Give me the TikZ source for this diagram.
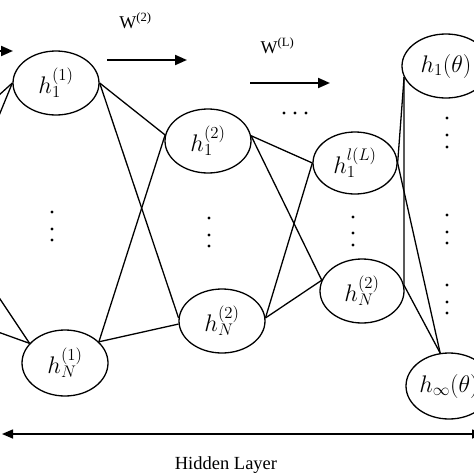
\RequirePackage{fix-cm}
\documentclass[tikz,border=0pt]{standalone}
\usepackage{fontspec}
\setmainfont{Liberation Serif}
\usetikzlibrary{shapes.geometric,arrows.meta}
\begin{document}
\begin{tikzpicture}[x=1pt,y=-1pt,
  neuron/.style={draw, ellipse, line width=1.3pt, minimum width=86pt, minimum height=64pt, inner sep=0pt, font=\fontsize{24}{28}\selectfont},
  link/.style={line width=1.3pt},
  warrow/.style={line width=2pt, -{Triangle[length=12pt,width=10pt]}},
  harrow/.style={line width=1.5pt, {Triangle[length=11pt,width=9pt]}-{Triangle[length=11pt,width=9pt]}},
  lbl/.style={font=\fontsize{18}{21}\selectfont, inner sep=0pt, anchor=base},
  dotmark/.style={fill=black}
]
\useasboundingbox (0,0) rectangle (474,474);

% neurons
\node[neuron] (A1) at (56,83) {$h_1^{(1)}$};
\node[neuron, minimum height=66pt] (AN) at (65,363) {$h_N^{(1)}$};
\node[neuron] (B1) at (208,141) {$h_1^{(2)}$};
\node[neuron] (BN) at (222,321) {$h_N^{(2)}$};
\node[neuron, minimum width=84pt, minimum height=62pt] (C1) at (355,163) {$h_1^{l(L)}$};
\node[neuron, minimum width=84pt] (CN) at (362,291) {$h_N^{(2)}$};
\node[neuron, minimum width=88pt] (D1) at (446,66) {$h_1(\theta)$};
\node[neuron, minimum height=66pt] (DI) at (449,386) {$h_\infty(\theta)$};

% off-picture ends
\coordinate (L1) at (-2,96);
\coordinate (L2) at (-2,118);
\coordinate (L3) at (-2,296);
\coordinate (L4) at (-2,332);

% connections
\draw[link] (A1.west) -- (L1);
\draw[link] (A1.west) -- (L2);
\draw[link] (AN.151) -- (L3);
\draw[link] (AN.151) -- (L4);
\draw[link] (A1.east) -- (B1.172);
\draw[link] (A1.east) -- (BN.176);
\draw[link] (AN.32) -- (B1.172);
\draw[link] (AN.32) -- (BN.184);
\draw[link] (B1.7) -- (C1.west);
\draw[link] (B1.7) -- (CN.165);
\draw[link] (BN.4) -- (C1.west);
\draw[link] (BN.4) -- (CN.165);
\draw[link] (C1.east) -- (DI.105);
\draw[link] (D1.195) -- (C1.east);
\draw[link] (D1.195) -- (CN.8);
\draw[link] (CN.8) -- (DI.105);

% weight arrows
\coordinate (T0) at (-2,51);
\coordinate (T1) at (13,51);
\coordinate (W2a) at (107,60);
\coordinate (W2b) at (187,60);
\coordinate (WLa) at (250,83);
\coordinate (WLb) at (330,83);
\draw[warrow] (T0) -- (T1);
\draw[warrow] (W2a) -- (W2b);
\draw[warrow] (WLa) -- (WLb);
\node[lbl] (W2) at (135.5,28) {W\textsuperscript{(2)}};
\node[lbl] (WL) at (277.5,53) {W\textsuperscript{(L)}};

% hidden layer arrow
\coordinate (H0) at (2,434);
\coordinate (H1) at (483,434);
\draw[harrow] (H0) -- (H1);
\node[lbl, font=\fontsize{18.5}{22}\selectfont] (HL) at (226,469) {Hidden Layer};

% dots
\foreach \x/\y in {52/212,52/229,52/240,
                   209/218,209/235,209/246,
                   353/217,353/233,353/245,
                   447/118,447/135,447/147,
                   447/215,447/232,447/243,
                   447/285,447/302,447/313,
                   284/113,295/113,306/113}
  \fill[dotmark] (\x,\y) circle (1.6);
\end{tikzpicture}
\end{document}
